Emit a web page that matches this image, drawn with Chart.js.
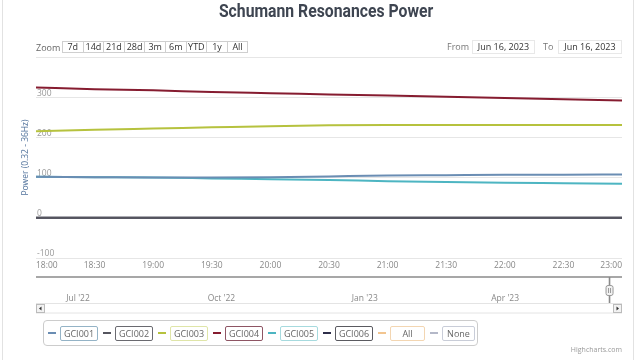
<!DOCTYPE html>
<html><head><meta charset="utf-8">
<script src="https://cdn.jsdelivr.net/npm/chart.js@4"></script>
<style>
html,body{margin:0;padding:0;background:#fff}
body{width:640px;height:360px;overflow:hidden;position:relative;font-family:"Open Sans",sans-serif}
#frame{position:absolute;left:2px;top:-2px;width:632px;height:370px;border-left:1px solid #e2e2e2;border-right:1px solid #e2e2e2;box-sizing:border-box}
#title{position:absolute;left:6px;top:0;width:640px;text-align:center;font-family:Roboto,sans-serif;font-weight:bold;font-size:17.5px;line-height:22px;color:#3e4551;z-index:2}
#title span{display:inline-block;transform:scaleX(0.9)}
#zoomrow{position:absolute;left:36px;top:41px;height:12px;display:flex;align-items:center;z-index:2;font-size:9px}
#zoomrow .lbl{color:#666;width:27px}
#zoomrow .btn{box-sizing:border-box;width:21.6px;height:12.5px;border:1px solid #cfcfcf;margin-left:-1px;text-align:center;line-height:10.5px;color:#333;background:#fff}
#zoomrow .btn:first-of-type{margin-left:0}
.rng{position:absolute;top:40px;height:14px;font-size:9px;line-height:14px;z-index:2}
.rng.lbl{color:#777}
.rng.box{box-sizing:border-box;border:1px solid #e8e8e8;color:#333;text-align:center;line-height:12px}
#main{position:absolute;left:0;top:0}
#nav{position:absolute;left:0;top:270px}
#legend{position:absolute;left:43px;top:320px;width:435px;height:26px;box-sizing:border-box;border:1px solid #cccccc;border-radius:4px;display:flex;align-items:center;padding-left:4px;z-index:2}
.item{display:flex;align-items:center;margin-right:5px}
.dash{width:8px;height:2px;margin-right:4px}
.lbox{box-sizing:border-box;height:15px;border:1px solid #ccc;border-radius:2px;font-size:9px;line-height:13px;color:#666;text-align:center}
#credits{position:absolute;right:18px;top:345px;font-size:7px;color:#999;z-index:2}
</style></head><body>
<div id="frame"></div>
<div id="title"><span>Schumann Resonances Power</span></div>
<div id="zoomrow"></div>
<div class="rng lbl" style="left:447px">From</div>
<div class="rng box" style="left:472px;width:63px">Jun 16, 2023</div>
<div class="rng lbl" style="left:543px">To</div>
<div class="rng box" style="left:558px;width:64px">Jun 16, 2023</div>
<canvas id="main" width="640" height="280"></canvas>
<canvas id="nav" width="640" height="50"></canvas>
<div id="legend"></div>
<div id="credits">Highcharts.com</div>
<script>
// ---- data ----
const times = [18, 18.5, 19, 19.5, 20, 20.5, 21, 21.5, 22, 22.5, 23];
const gci001 = [102, 101, 100, 100, 101, 103, 105, 106, 107, 107, 108];
const gci002 = [0, 0, 0, 0, 0, 0, 0, 0, 0, 0, 0];
const gci003 = [215, 219, 222, 225, 228, 230, 231, 231, 231, 231, 231];
const gci004 = [324, 320, 317, 313, 310, 307, 304, 301, 298, 295, 292];
const gci005 = [102, 101, 100, 98, 96, 94, 91, 89, 87, 86, 85];
const gci006 = [0, 0, 0, 0, 0, 0, 0, 0, 0, 0, 0];
const seriesNames = ['GCI001', 'GCI002', 'GCI003', 'GCI004', 'GCI005', 'GCI006'];
const seriesColors = ['#6a8db3', '#55555e', '#b6c23e', '#861c30', '#4db5c2', '#2e2e4a'];
const legendBorders = ['#94b3c6', '#6a6a70', '#dfe5a8', '#8e5564', '#a6dade', '#5a5a60', '#f3d6b2', '#c9cdd8'];
const legendExtra = ['All', 'None'];
const legendExtraColors = ['#f2c590', '#b4b8c8'];
const yTicks = [-100, 0, 100, 200, 300, 400];
const zoomButtons = ['7d', '14d', '21d', '28d', '3m', '6m', 'YTD', '1y', 'All'];
const navTickDays = [0, 92, 184, 274];
const navTickLabels = ["Jul '22", "Oct '22", "Jan '23", "Apr '23"];
const navRange = [-18, 358];
const navSelectedDay = 350;
const allSeries = [gci001, gci002, gci003, gci004, gci005, gci006];

// ---- html controls ----
const zr = document.getElementById('zoomrow');
zr.innerHTML = '<span class="lbl">Zoom</span>' + zoomButtons.map(b => '<span class="btn">' + b + '</span>').join('');
const lg = document.getElementById('legend');
const legNames = seriesNames.concat(legendExtra);
const legColors = seriesColors.concat(legendExtraColors);
lg.innerHTML = legNames.map((n, i) => {
  const w = i < 6 ? 38 : (i === 6 ? 35 : 33);
  return '<div class="item"><span class="dash" style="background:' + legColors[i] + '"></span>' +
    '<span class="lbox" style="width:' + w + 'px;border-color:' + legendBorders[i] + '">' + n + '</span></div>';
}).join('');

// ---- main chart ----
const fmtTime = v => { const h = Math.floor(v + 1e-6); const m = Math.round((v - h) * 60); return h + ':' + (m < 10 ? '0' : '') + m; };
const order = [2, 3, 0, 4, 1, 5];
new Chart(document.getElementById('main'), {
  type: 'line',
  data: {
    datasets: order.map(i => ({
      label: seriesNames[i],
      data: times.map((t, k) => ({ x: t, y: allSeries[i][k] })),
      borderColor: seriesColors[i],
      borderWidth: 2,
      pointRadius: 0,
      cubicInterpolationMode: 'monotone',
      fill: false
    }))
  },
  options: {
    responsive: false,
    animation: false,
    events: [],
    layout: { padding: { top: 57, right: 18, left: 0, bottom: 0 } },
    plugins: { legend: { display: false }, tooltip: { enabled: false }, title: { display: false } },
    scales: {
      x: {
        type: 'linear', min: 18, max: 23,
        afterBuildTicks: s => { s.ticks = times.map(v => ({ value: v })); },
        afterFit: s => { s.height = 22; },
        grid: { display: false, drawTicks: false },
        border: { display: false },
        ticks: { align: 'inner', padding: 2, color: '#888', font: { family: 'Open Sans', size: 8.5 }, callback: v => fmtTime(v), maxRotation: 0 }
      },
      y: {
        min: -100, max: 400,
        afterBuildTicks: s => { s.ticks = yTicks.map(v => ({ value: v })); },
        afterFit: s => { s.width = 36; },
        grid: { color: '#e6e6e6', drawTicks: false, lineWidth: 1 },
        border: { display: false },
        ticks: { mirror: true, padding: 1, labelOffset: -4, color: '#999', font: { family: 'Open Sans', size: 8.5 }, callback: v => v === 400 ? '' : String(v) },
        title: { display: true, text: 'Power (0.32 - 36Hz)', color: '#52739c', font: { family: 'Open Sans', size: 8.5 }, padding: { top: 20, bottom: 0 } }
      }
    }
  }
});

// ---- navigator ----
const navDecor = {
  id: 'navDecor',
  afterDraw(chart) {
    const ctx = chart.ctx, a = chart.chartArea;
    const sx = chart.scales.x.getPixelForValue(navSelectedDay);
    ctx.save();
    ctx.strokeStyle = '#e4e4e4'; ctx.lineWidth = 1;
    ctx.strokeRect(a.left + 0.5, 33.5, a.right - a.left - 1, 9.5);
    ctx.strokeStyle = '#8a8a8a'; ctx.lineWidth = 1.6;
    ctx.beginPath();
    ctx.moveTo(a.left, a.top); ctx.lineTo(a.right, a.top);
    ctx.moveTo(sx, a.top); ctx.lineTo(sx, 33);
    ctx.stroke();
    ctx.fillStyle = '#f2f2f2'; ctx.strokeStyle = '#999'; ctx.lineWidth = 1;
    ctx.beginPath(); ctx.roundRect(sx - 3.5, 15.5, 7, 10, 2); ctx.fill(); ctx.stroke();
    ctx.beginPath(); ctx.moveTo(sx - 1, 18); ctx.lineTo(sx - 1, 23); ctx.moveTo(sx + 1, 18); ctx.lineTo(sx + 1, 23); ctx.stroke();
    const btn = (x, dir) => {
      ctx.fillStyle = '#f2f2f2'; ctx.strokeStyle = '#bbb';
      ctx.fillRect(x, 34, 9, 9); ctx.strokeRect(x + 0.5, 34.5, 8, 8);
      ctx.fillStyle = '#333'; ctx.beginPath();
      if (dir < 0) { ctx.moveTo(x + 3, 38.5); ctx.lineTo(x + 5.5, 36.5); ctx.lineTo(x + 5.5, 40.5); }
      else { ctx.moveTo(x + 6, 38.5); ctx.lineTo(x + 3.5, 36.5); ctx.lineTo(x + 3.5, 40.5); }
      ctx.fill();
    };
    btn(a.left, -1); btn(a.right - 9, 1);
    ctx.restore();
  }
};
new Chart(document.getElementById('nav'), {
  type: 'line',
  data: { datasets: [{ data: [], borderWidth: 0, pointRadius: 0 }] },
  options: {
    responsive: false, animation: false, events: [],
    layout: { padding: { top: 7, right: 18, left: 36, bottom: 17 } },
    plugins: { legend: { display: false }, tooltip: { enabled: false } },
    scales: {
      x: {
        type: 'linear', min: navRange[0], max: navRange[1],
        afterBuildTicks: s => { s.ticks = navTickDays.map(v => ({ value: v })); },
        afterFit: s => { s.height = 10; },
        grid: { display: false, drawTicks: false }, border: { display: false },
        ticks: { align: 'center', labelOffset: 14, padding: 0, color: '#888', font: { family: 'Open Sans', size: 8.5 },
          callback: (v, i) => navTickLabels[i], maxRotation: 0, autoSkip: false }
      },
      y: { display: false, min: 0, max: 1 }
    }
  },
  plugins: [navDecor]
});
</script>
</body></html>
